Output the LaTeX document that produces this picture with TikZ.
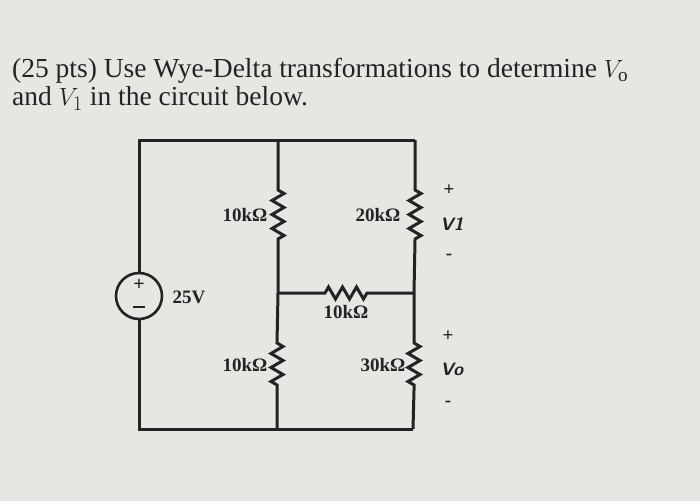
\documentclass[tikz,border=0pt]{standalone}
\usepackage{fontspec}
\setmainfont{Liberation Serif}
\usetikzlibrary{decorations.pathmorphing}
\definecolor{paper}{RGB}{230,231,226}
\definecolor{ink}{RGB}{35,35,35}
\tikzset{
  wire/.style={draw=ink, line width=3pt},
  res/.style={decorate, decoration={zigzag, segment length=14pt, amplitude=6pt}},
  lbl/.style={font=\bfseries\fontsize{19}{19}\selectfont, text=ink},
  vlbl/.style={font=\bfseries\itshape\sffamily\fontsize{18}{18}\selectfont, text=ink},
}
\begin{document}
\begin{tikzpicture}[x=1pt,y=1pt,yscale=-1]
	\fill[paper] (0,0) rectangle (700,501);
	\useasboundingbox (0,0) rectangle (700,501);

	% title
	\node[anchor=west, font=\fontsize{27.5}{28}\selectfont, text=ink, align=left, inner sep=0pt] (title) at (12,84)
	  {(25 pts) Use Wye-Delta transformations to determine $V_{\mathrm{o}}$\\and $V_{1}$ in the circuit below.};

	% corners and junctions
	\coordinate (tl) at (139,140);
	\coordinate (tm) at (278,140);
	\coordinate (tr) at (415,140);
	\coordinate (bl) at (139,429);
	\coordinate (bm) at (277,429);
	\coordinate (br) at (413,429);
	\coordinate (mm) at (278,293);
	\coordinate (mr) at (414,293);
	\node[circle, draw=ink, line width=2.6pt, minimum size=46pt, inner sep=0pt] (src) at (139,296) {};

	% wires
	\draw[wire] (src.north) -- (tl) -- (tm) -- (tr);
	\draw[wire] (src.south) -- (bl) -- (bm) -- (br);
	\draw[wire] (tm) -- (278,190) decorate[res] {-- (278,240)} -- (mm);
	\draw[wire] (mm) -- (277,343) decorate[res] {-- (277,390)} -- (bm);
	\draw[wire] (tr) -- (415,190) decorate[res] {-- (415,240)} -- (mr);
	\draw[wire] (mr) -- (414,343) decorate[res] {-- (414,390)} -- (br);
	\draw[wire] (mm) -- (325,293) decorate[res] {-- (373,293)} -- (mr);

	% source signs
	\node[font=\bfseries\fontsize{20}{20}\selectfont, text=ink] (plus) at (139,285) {+};
	\draw[wire, line width=2pt] (133,307) -- (145,307);

	% labels
	\node[lbl] (e) at (189,297) {25V};
	\node[lbl] (r1) at (245,215) {10kΩ};
	\node[lbl] (r2) at (378,215) {20kΩ};
	\node[lbl] (r3) at (346,312) {10kΩ};
	\node[lbl] (r4) at (245,365) {10kΩ};
	\node[lbl] (r5) at (383,365) {30kΩ};
	\node[lbl] (vp1) at (449,190) {+};
	\node[vlbl] (v1) at (452,224) {V1};
	\node[lbl] (vm1) at (449,257) {-};
	\node[lbl] (vpo) at (448,336) {+};
	\node[vlbl] (vo) at (452,369) {Vo};
	\node[lbl] (vmo) at (448,404) {-};
\end{tikzpicture}
\end{document}
